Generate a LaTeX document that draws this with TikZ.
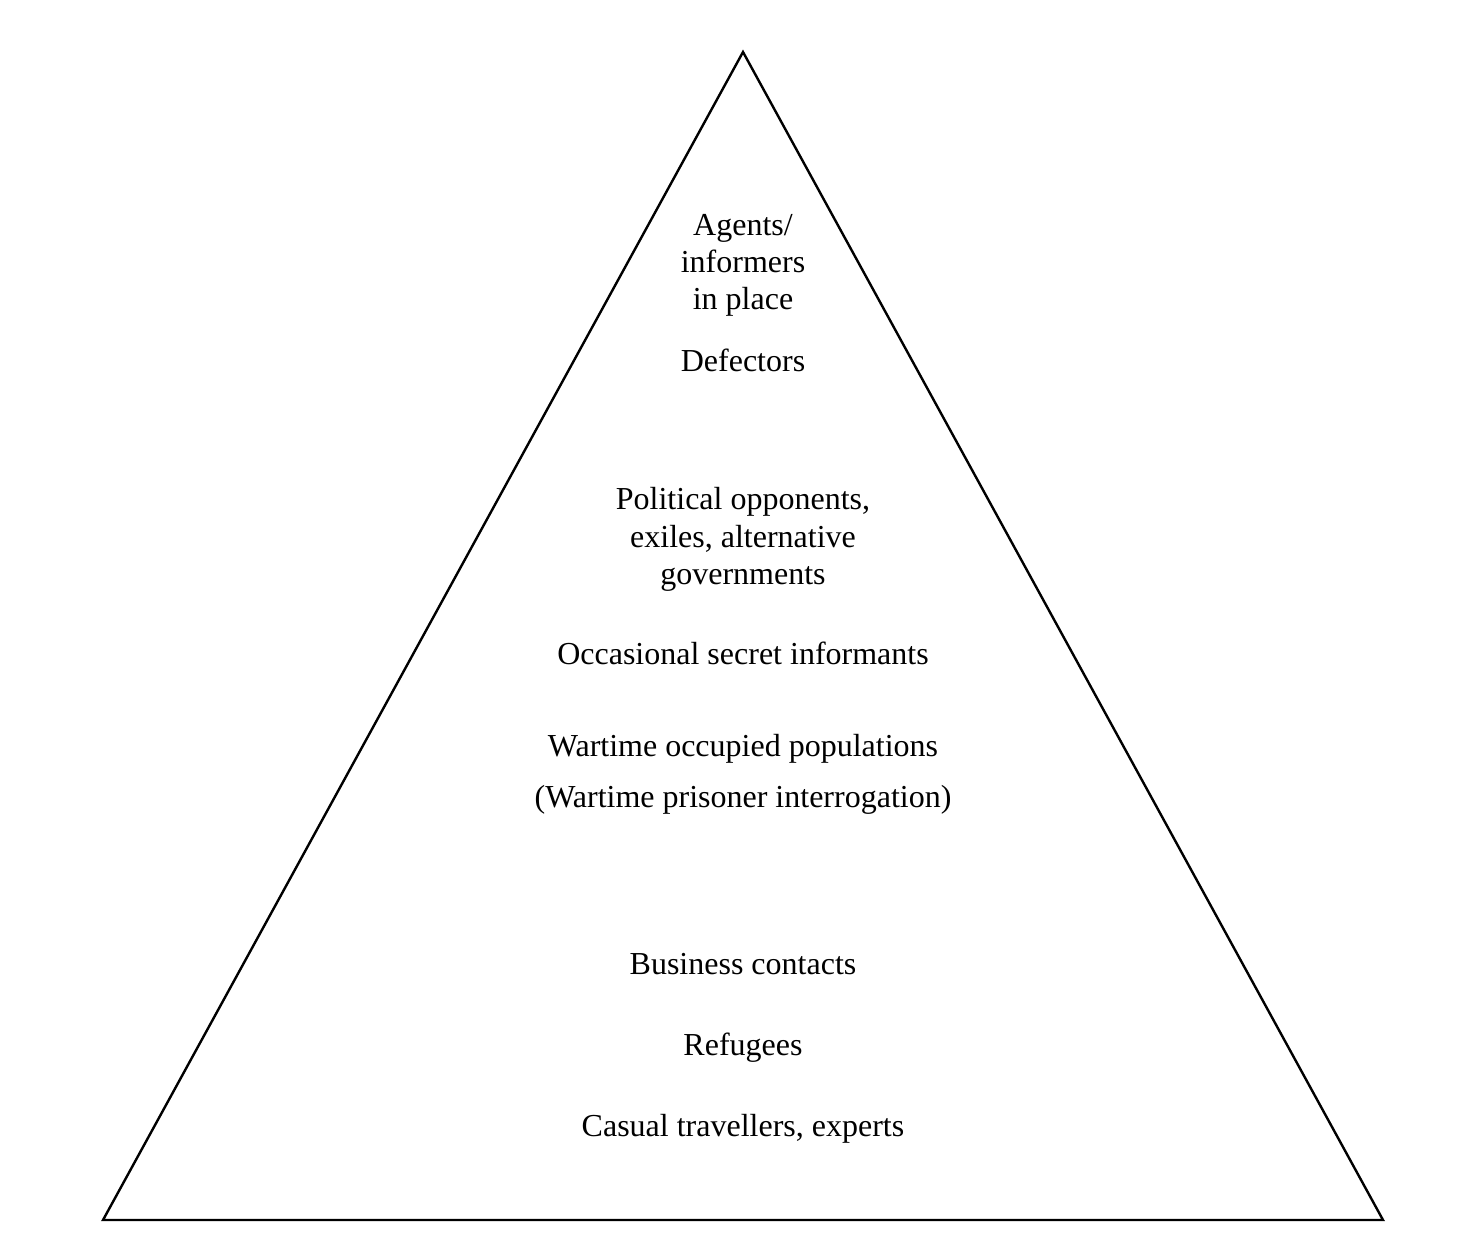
\documentclass[tikz,border=0pt]{standalone}
\usepackage{fontspec}
\setmainfont{Liberation Serif}
\begin{document}
\begin{tikzpicture}[x=0.5pt,y=-0.5pt,
  lab/.style={font=\fontsize{16}{19}\selectfont, inner sep=0pt, anchor=base}]
\useasboundingbox (0,0) rectangle (1465,1253);
\coordinate (apex) at (743,52);
\coordinate (bl) at (103,1220);
\coordinate (br) at (1383,1220);
\draw[line width=1.2pt, line join=miter] (apex) -- (br) -- (bl) -- cycle;
\node[lab] (t1) at (743,235) {Agents/};
\node[lab] (t2) at (743,272) {informers};
\node[lab] (t3) at (743,309) {in place};
\node[lab] (t4) at (743,371) {Defectors};
\node[lab] (t5) at (743,509) {Political opponents,};
\node[lab] (t6) at (743,547) {exiles, alternative};
\node[lab] (t7) at (743,584) {governments};
\node[lab] (t8) at (743,664) {Occasional secret informants};
\node[lab] (t9) at (743,756) {Wartime occupied populations};
\node[lab] (t10) at (743,807) {(Wartime prisoner interrogation)};
\node[lab] (t11) at (743,974) {Business contacts};
\node[lab] (t12) at (743,1055) {Refugees};
\node[lab] (t13) at (743,1136) {Casual travellers, experts};
\end{tikzpicture}
\end{document}
